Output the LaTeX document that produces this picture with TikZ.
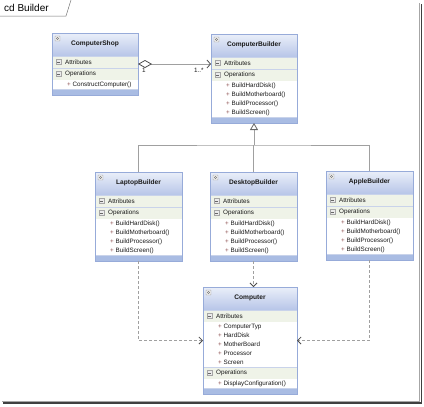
\documentclass[tikz,border=0pt]{standalone}
\usepackage{fontspec}
\setmainfont{Liberation Sans}
\usepackage{tikz}
\usetikzlibrary{arrows.meta,positioning,calc}
\definecolor{umlborder}{HTML}{97ABD9}
\definecolor{umlheadtop}{HTML}{EAEFF9}
\definecolor{umlheadbot}{HTML}{B7C5E8}
\definecolor{umlrow}{HTML}{EFF3E8}
\definecolor{umlband}{HTML}{A9BCE3}
\definecolor{umlline}{HTML}{C9D3EA}
\definecolor{plusred}{HTML}{8A4A4A}
\definecolor{linkgray}{HTML}{A0A0A0}
\tikzstyle{title} = [font=\fontsize{6.6}{7}\selectfont\bfseries, text=black!90]
\tikzstyle{item} = [font=\fontsize{6.3}{7}\selectfont, anchor=west, inner sep=0pt, text=black!90]
\tikzstyle{link} = [draw=linkgray, line width=0.8pt]
\tikzstyle{dep} = [link, dash pattern=on 3pt off 2pt, -{Straight Barb[length=3.5pt,width=7pt,black!70]}]
\tikzstyle{icon} = [draw=black!35, fill=black!8, line width=0.4pt]

% #1 id, #2 left, #3 top, #4 width, #5 title, #6 no. attrs, #7 attrs, #8 no. ops, #9 ops
\newcommand{\umlclass}[9]{%
  \pgfmathsetmacro\ybHead{#3+23}
  \pgfmathsetmacro\ybAttr{\ybHead+12}
  \pgfmathsetmacro\ybOpsTop{\ybAttr+9*#6}
  \pgfmathsetmacro\ybOps{\ybOpsTop+12}
  \pgfmathsetmacro\ybBand{\ybOps+9*#8}
  \pgfmathsetmacro\ybEnd{\ybBand+6}
  \shade[top color=umlheadtop, bottom color=umlheadbot] (#2,#3) rectangle (#2+#4,\ybHead);
  \fill[umlrow] (#2,\ybHead) rectangle (#2+#4,\ybAttr);
  \fill[umlrow] (#2,\ybOpsTop) rectangle (#2+#4,\ybOps);
  \fill[umlband] (#2,\ybBand) rectangle (#2+#4,\ybEnd);
  \draw[umlline, line width=0.5pt] (#2,\ybHead) -- (#2+#4,\ybHead)
    (#2,\ybOpsTop) -- (#2+#4,\ybOpsTop) (#2,\ybBand) -- (#2+#4,\ybBand);
  \node[draw=umlborder, line width=0.9pt, inner sep=0pt, outer sep=0pt, anchor=north west,
    minimum width=#4pt, minimum height={(\ybEnd-#3)*1pt}] (#1) at (#2,#3) {};
  % icons
  \draw[icon, rounded corners=0.5pt] (#2+3,#3+3) rectangle ++(5,5);
  \draw[black!55, line width=0.4pt] (#2+5.5,#3+5.5) circle (1.2pt);
  \draw[icon] (#2+4,\ybHead+3.5) rectangle ++(5,5);
  \draw[black!60, line width=0.4pt] (#2+5,\ybHead+6) -- ++(3,0);
  \draw[icon] (#2+4,\ybOpsTop+3.5) rectangle ++(5,5);
  \draw[black!60, line width=0.4pt] (#2+5,\ybOpsTop+6) -- ++(3,0);
  \node[title] (#1-title) at (#2+#4/2,#3+11) {#5};
  \node[item] (#1-attrs) at (#2+13,\ybHead+6) {Attributes};
  \node[item] (#1-ops) at (#2+13,\ybOpsTop+6) {Operations};
  \ifnum#6>0
    \foreach \t [count=\i] in {#7}
      \node[item] at (#2+15,\ybAttr+9*\i-4.5) {\textcolor{plusred}{+} \t};
  \fi
  \ifnum#8>0
    \foreach \t [count=\i] in {#9}
      \node[item] at (#2+15,\ybOps+9*\i-4.5) {\textcolor{plusred}{+} \t};
  \fi
}

\begin{document}
\begin{tikzpicture}[x=1pt,y=-1pt]
    \useasboundingbox (0,0) rectangle (424,407);
    % frame
    \draw[black!55, line width=0.5pt] (0,16) -- (66,16) -- (71,0);
    \node[font=\fontsize{10}{12}\selectfont, anchor=west, inner sep=0pt] (frametitle) at (4,8) {cd Builder};
    \draw[black!35, line width=0.6pt] (419.6,3) -- (419.6,401) -- (2,401);
    \draw[black!75, line width=1.5pt] (421.4,4) -- (421.4,402.8) -- (3,402.8);

    \umlclass{shop}{52}{33}{86}{ComputerShop}{0}{}{1}{ConstructComputer()}
    \umlclass{builder}{211}{34}{86}{ComputerBuilder}{0}{}{4}{BuildHardDisk(), BuildMotherboard(), BuildProcessor(), BuildScreen()}
    \umlclass{laptop}{95}{172}{87}{LaptopBuilder}{0}{}{4}{BuildHardDisk(), BuildMotherboard(), BuildProcessor(), BuildScreen()}
    \umlclass{desktop}{210}{172}{87}{DesktopBuilder}{0}{}{4}{BuildHardDisk(), BuildMotherboard(), BuildProcessor(), BuildScreen()}
    \umlclass{apple}{326}{171}{87}{AppleBuilder}{0}{}{4}{BuildHardDisk(), BuildMotherboard(), BuildProcessor(), BuildScreen()}
    \umlclass{computer}{203}{287}{94}{Computer}{5}{ComputerTyp, HardDisk, MotherBoard, Processor, Screen}{1}{DisplayConfiguration()}

    % aggregation
    \draw[link, {Diamond[open,length=14pt,width=8pt,black!70]}-{Straight Barb[length=3.5pt,width=8pt,black!70]}]
        (shop.east) -- (builder.west |- shop.east);
    \node[item] (shopmult) at (142,70.5) {1};
    \node[item] (buildermult) at (194,70.5) {1..*};

    % generalization
    \coordinate (genjoin) at ([yshift=-22pt]builder.south);
    \draw[link] (laptop.north) |- (genjoin) -| (apple.north);
    \draw[link] (desktop.north) -- (desktop.north |- genjoin);
    \draw[link, -{Triangle[open,length=7pt,width=8pt,black!60]}] (genjoin) -- (builder.south);

    % dependencies
    \draw[dep] (laptop.south) |- (computer.west);
    \draw[dep] (apple.south) |- (computer.east);
    \draw[dep] (desktop.south) -- (desktop.south |- computer.north);
    % \draw[dep] (desktop.south) -- (computer.north);
\end{tikzpicture}
\end{document}
